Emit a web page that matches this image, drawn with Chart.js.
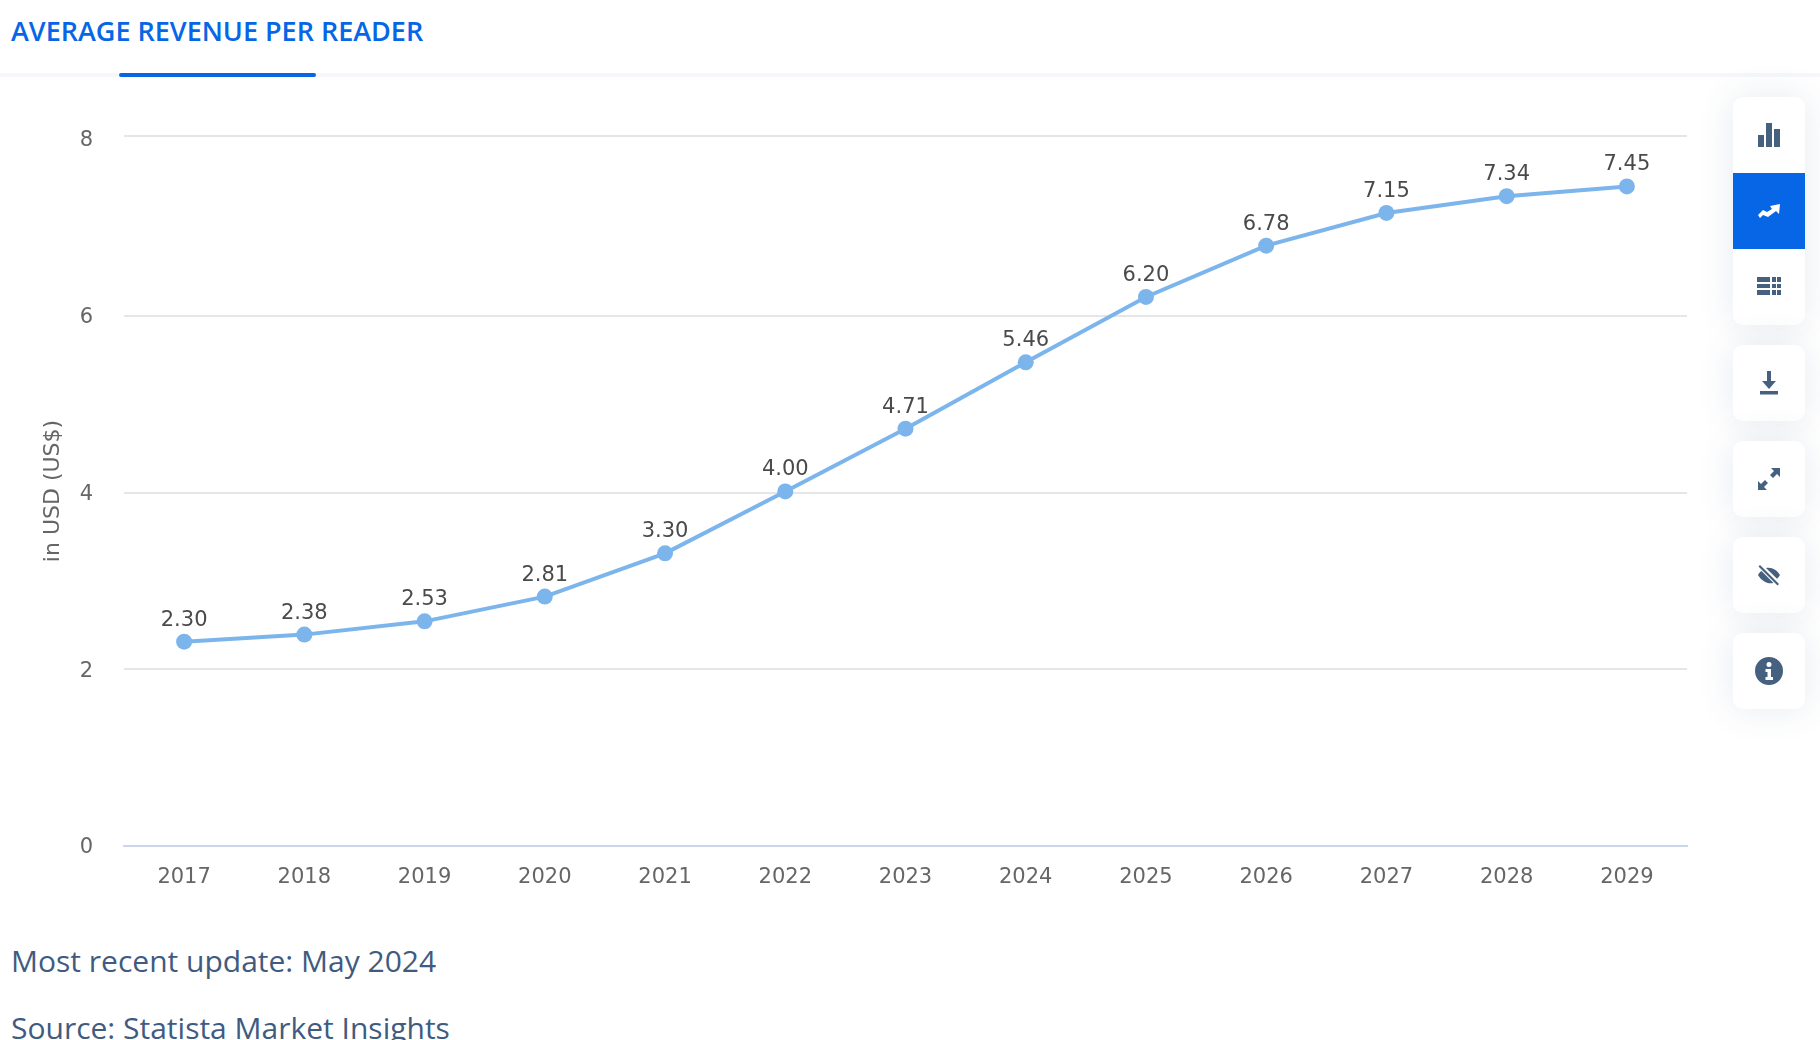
<!DOCTYPE html>
<html>
<head>
<meta charset="utf-8">
<title>Average revenue per reader</title>
<script src="https://cdn.jsdelivr.net/npm/chart.js@4"></script>
<style>
  html, body { margin: 0; padding: 0; width: 1820px; height: 1040px; overflow: hidden; background: #fff; }
  body { position: relative; font-family: "Open Sans", sans-serif; }
  #title { position: absolute; left: 11px; top: 13px; font-size: 27px; line-height: 36px; font-weight: 600; color: #0666e5; white-space: nowrap; }
  #tabline { position: absolute; left: 0; top: 73px; width: 1820px; height: 4px; background: #f6f7fb; }
  #tabactive { position: absolute; left: 119px; top: 73px; width: 197px; height: 4px; border-radius: 2px; background: #0666e5; }
  #chartbox { position: absolute; left: 0; top: 90px; width: 1700px; height: 810px; }
  .note { position: absolute; left: 11px; font-size: 30px; line-height: 40px; color: #3f5b7f; white-space: nowrap; }
  .card { position: absolute; left: 1733px; width: 72px; background: #fff; border-radius: 10px; box-shadow: 0 0 36px rgba(60, 80, 120, .12); overflow: hidden; }
  .btn { height: 76px; display: flex; align-items: center; justify-content: center; }
  .btn.on { background: #0666e5; }
  .btn svg { width: 24px; height: 24px; fill: #46607f; display: block; }
  .btn.on svg { fill: #fff; }
</style>
</head>
<body>
<div id="title">AVERAGE REVENUE PER READER</div>
<div id="tabline"></div>
<div id="tabactive"></div>
<div id="chartbox"><canvas id="myChart"></canvas></div>
<div class="note" style="top:941px">Most recent update: May 2024</div>
<div class="note" style="top:1008px">Source: Statista Market Insights</div>

<div class="card" style="top:97px">
  <div class="btn"><svg viewBox="0 0 24 24"><path d="M1 12h6v12H1zM9 0h6v24H9zM17 6h6v18h-6z"/></svg></div>
  <div class="btn on"><svg viewBox="0 0 24 24"><path d="M1 16l5-5 4 2 5-3-2-3 10-2-1 10-3-3-8 6-5-2-3 3z"/></svg></div>
  <div class="btn"><svg viewBox="0 0 24 24"><path d="M0 2h13v5H0zM15 2h4v5h-4zM20 2h4v5h-4zM0 9h13v4H0zM15 9h4v4h-4zM20 9h4v4h-4zM0 15h13v5H0zM15 15h4v5h-4zM20 15h4v5h-4z"/></svg></div>
</div>
<div class="card" style="top:345px"><div class="btn"><svg viewBox="0 0 24 24"><path d="M10 0h4v10h5l-7 8-7-8h5zM3 20h18v3.500H3z"/></svg></div></div>
<div class="card" style="top:441px"><div class="btn"><svg viewBox="0 0 24 24"><path d="M14 1h9v9l-3-3-4 4-3-3 4-4zM1 14l3 3 4-4 3 3-4 4 3 3H1z"/></svg></div></div>
<div class="card" style="top:537px"><div class="btn"><svg viewBox="0 0 24 24"><path d="M3 2l19 19-1.500 1.500L1.500 3.500zM1 12c1-2 2-3 3.500-4l12 12c-6 1.500-12-2-15.500-8zM9 5c6-1 11 2 14 7-.8 1.500-1.800 2.700-3 3.700z"/></svg></div></div>
<div class="card" style="top:633px"><div class="btn"><svg viewBox="0 0 28 28" style="width:28px;height:28px"><path fill-rule="evenodd" d="M14 0a14 14 0 1 0 0 28a14 14 0 0 0 0-28zM14 5a2.500 2.500 0 1 1 0 5a2.500 2.500 0 0 1 0-5zM10.500 12h5.500v8h2v3h-7.500v-3h2v-5h-2z"/></svg></div></div>

<script>
"use strict";

let years = ['2017', '2018', '2019', '2020', '2021', '2022', '2023', '2024', '2025', '2026', '2027', '2028', '2029'];
let revenuePerReader = [2.30, 2.38, 2.53, 2.81, 3.30, 4.00, 4.71, 5.46, 6.20, 6.78, 7.15, 7.34, 7.45];
let yTicks = [0, 2, 4, 6, 8];
let yTop = 8.034; // the top grid line sits a little above the 8 label in the original
let yTitle = 'in USD (US$)';

let chartFont = '"DejaVu Sans"';

// value labels above the points, y labels nudged down a bit
let pointLabels = {
  id: 'pointLabels',
  beforeDraw(chart) {
    chart.scales.y.getLabelItems(chart.chartArea).forEach(function(item) {
      if (!item.moved) {
        item.options.translation = [item.options.translation[0], item.options.translation[1] + 2];
        item.moved = true;
      }
    });
  },
  afterDatasetsDraw(chart) {
    let ctx = chart.ctx;
    let points = chart.getDatasetMeta(0).data;
    ctx.save();
    ctx.font = '21px ' + chartFont;
    ctx.fillStyle = '#4a4a4a';
    ctx.textAlign = 'center';
    ctx.textBaseline = 'middle';
    points.forEach(function(pt, i) {
      ctx.fillText(revenuePerReader[i].toFixed(2), pt.x, pt.y - 21.5);
    });
    ctx.restore();
  }
};

let ctx = document.getElementById('myChart').getContext('2d');
let myChart = new Chart(ctx, {
  type: 'line',
  data: {
    labels: years,
    datasets: [{
      label: 'Average revenue per reader',
      data: revenuePerReader,
      yAxisID: 'yPoints',
      borderColor: '#7cb5ec',
      backgroundColor: '#7cb5ec',
      borderWidth: 4,
      tension: 0,
      pointRadius: 8,
      pointBorderWidth: 0,
      pointBackgroundColor: '#7cb5ec'
    }]
  },
  options: {
    responsive: true,
    maintainAspectRatio: false,
    animation: false,
    layout: { padding: { top: 46, right: 13, bottom: 0, left: 0 } },
    plugins: { legend: { display: false }, tooltip: { enabled: false } },
    scales: {
      x: {
        offset: true,
        afterFit(scale) { scale.height = 54; },
        grid: { display: false, drawTicks: false },
        border: { color: '#ccd6eb', width: 2 },
        ticks: { color: '#666666', padding: 19, maxRotation: 0, font: { family: chartFont, size: 21 } }
      },
      // the line runs about 1px above the grid in the original, so it gets its own hidden scale
      yPoints: { display: false, min: -0.0113, max: 8.0207 },
      y: {
        min: 0,
        max: yTop,
        afterBuildTicks(scale) {
          scale.ticks = yTicks.concat([yTop]).map(function(v) { return { value: v }; });
        },
        afterFit(scale) { scale.width = 124; },
        grid: {
          color(c) { return c.tick.value === 8 ? 'transparent' : '#e6e6e6'; },
          lineWidth: 2,
          drawTicks: false
        },
        border: { display: false },
        title: { display: true, text: yTitle, color: '#666666', padding: { top: 40, bottom: 0 }, font: { family: chartFont, size: 22 } },
        ticks: {
          color: '#666666',
          padding: 31,
          font: { family: chartFont, size: 21 },
          callback(value) { return yTicks.includes(value) ? String(value) : ''; }
        }
      }
    }
  },
  plugins: [pointLabels]
});
</script>
</body>
</html>
